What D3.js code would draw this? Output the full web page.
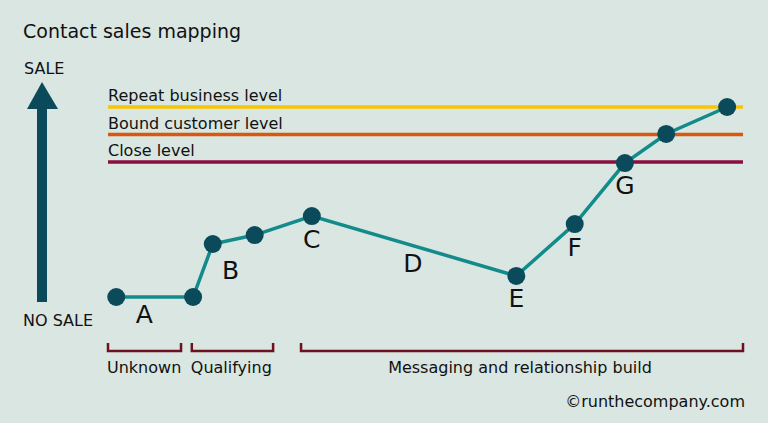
<!DOCTYPE html>
<html lang="en">
<head>
<meta charset="utf-8">
<title>Contact sales mapping</title>
<script src="https://d3js.org/d3.v7.min.js"></script>
<style>
    body { margin: 0; background: #d9e6e1; }
    svg { display: block; font-family: "DejaVu Sans", Verdana, sans-serif; }
</style>
</head>
<body>
<svg width="768" height="423"></svg>
<script>
// contact path: x = progress (0-100), y = sale level (0 = no sale, 100 = repeat)
const pointX = [1.3, 13.4, 16.5, 23.1, 32.1, 64.3, 73.5, 81.4, 87.9, 97.5];
const pointY = [0, 0, 27.9, 32.6, 42.6, 11.1, 38.4, 70.5, 85.8, 100];

const levelNames = ['Repeat business level', 'Bound customer level', 'Close level'];
const levelValues = [100, 85.5, 71];
const levelColors = ['#f7c600', '#d9580c', '#8c0d40'];

const letters = ['A', 'B', 'C', 'D', 'E', 'F', 'G'];
const letterX = [5.7, 19.3, 32.1, 48.0, 64.3, 73.5, 81.4];
const letterY = [-13.7, 9.5, 25.8, 13.2, -5.3, 21.6, 54.2];

const phases = ['Unknown', 'Qualifying', 'Messaging and relationship build'];
const phaseStart = [0, 13.2, 30.4];
const phaseEnd = [11.5, 26, 100];

const svg = d3.select('svg');

const x = d3.scaleLinear().domain([0, 100]).range([108, 743]);
const y = d3.scaleLinear().domain([0, 100]).range([297, 107]);

// title
svg.append('text')
    .attr('x', 23).attr('y', 38)
    .style('font-size', '19px').style('fill', '#111')
    .text('Contact sales mapping');

// arrow
svg.append('text').attr('x', 24).attr('y', 74)
    .style('font-size', '16px').style('fill', '#111').text('SALE');
svg.append('text').attr('x', 23).attr('y', 326)
    .style('font-size', '16px').style('fill', '#111').text('NO SALE');
svg.append('rect')
    .attr('x', 37).attr('y', 104).attr('width', 10).attr('height', 198)
    .style('fill', '#0b4a5b');
svg.append('path')
    .attr('d', 'M27,109 L42,82 L58,109 Z')
    .style('fill', '#0b4a5b');

// levels
const levels = levelNames.map((n, i) => ({name: n, v: levelValues[i], c: levelColors[i]}));
svg.selectAll('.level').data(levels).join('line')
    .attr('class', 'level')
    .attr('x1', x(0)).attr('x2', x(100))
    .attr('y1', d => y(d.v)).attr('y2', d => y(d.v))
    .style('stroke', d => d.c).style('stroke-width', 3.5);
svg.selectAll('.levelLabel').data(levels).join('text')
    .attr('class', 'levelLabel')
    .attr('x', x(0)).attr('y', d => y(d.v) - 6)
    .style('font-size', '16px').style('fill', '#111')
    .text(d => d.name);

// path
const pts = pointX.map((v, i) => ({x: v, y: pointY[i]}));
const line = d3.line().x(d => x(d.x)).y(d => y(d.y));
svg.append('path')
    .datum(pts)
    .attr('d', line)
    .style('fill', 'none').style('stroke', '#138b8a').style('stroke-width', 3.5);
svg.selectAll('.dot').data(pts).join('circle')
    .attr('class', 'dot')
    .attr('cx', d => x(d.x)).attr('cy', d => y(d.y)).attr('r', 9)
    .style('fill', '#0b4a5b');

// letters
svg.selectAll('.letter').data(letters).join('text')
    .attr('class', 'letter')
    .attr('x', (d, i) => x(letterX[i])).attr('y', (d, i) => y(letterY[i]))
    .attr('text-anchor', 'middle')
    .style('font-size', '25px').style('fill', '#111')
    .text(d => d);

// phase brackets
const ph = phases.map((p, i) => ({name: p, a: phaseStart[i], b: phaseEnd[i]}));
svg.selectAll('.bracket').data(ph).join('path')
    .attr('class', 'bracket')
    .attr('d', d => `M${x(d.a)},343 V351 H${x(d.b)} V343`)
    .style('fill', 'none').style('stroke', '#6e1020').style('stroke-width', 2.5);
svg.selectAll('.phase').data(ph).join('text')
    .attr('class', 'phase')
    .attr('x', (d, i) => i === 2 ? (x(d.a) + x(d.b)) / 2 - 2 : x(d.a) - 1)
    .attr('y', 373)
    .attr('text-anchor', (d, i) => i === 2 ? 'middle' : 'start')
    .style('font-size', '16px').style('fill', '#111')
    .text(d => d.name);

svg.append('text')
    .attr('x', 745).attr('y', 407)
    .attr('text-anchor', 'end')
    .style('font-size', '16px').style('fill', '#111')
    .text('\u00a9runthecompany.com');
</script>
</body>
</html>
